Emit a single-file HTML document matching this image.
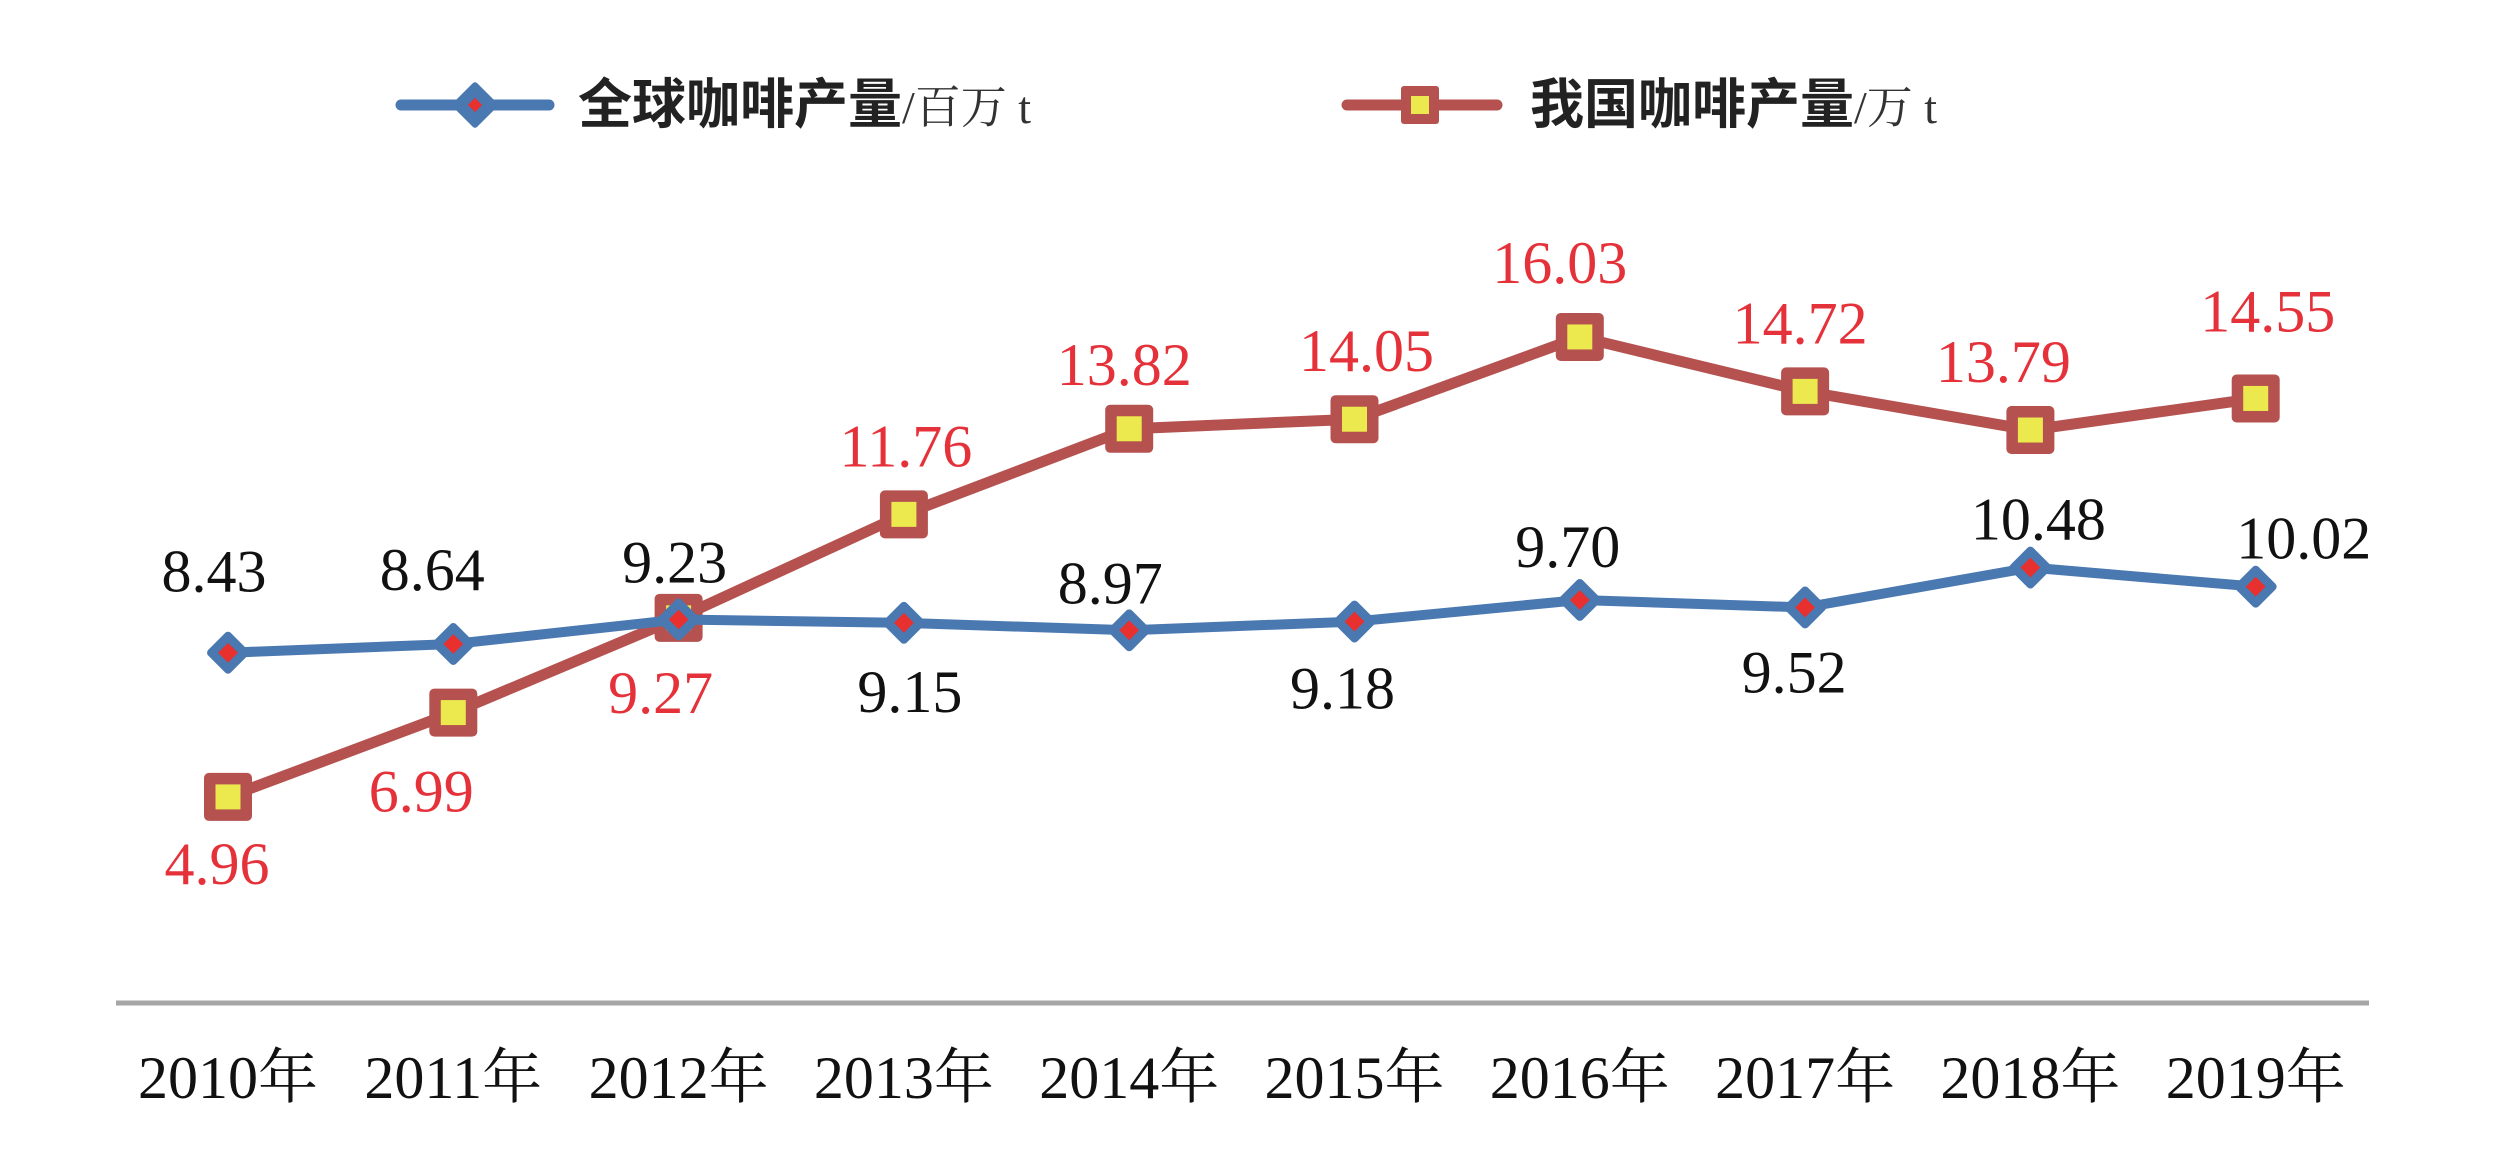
<!DOCTYPE html>
<html><head><meta charset="utf-8"><style>
html,body{margin:0;padding:0;background:#fff;}
svg{display:block;}
</style></head><body>
<svg id="chart" width="2495" height="1158" viewBox="0 0 2495 1158" xmlns="http://www.w3.org/2000/svg">
  <g>
    <g>
      <line x1="401" y1="105" x2="549" y2="105" stroke="#4a78b0" stroke-width="11" stroke-linecap="round"/>
      <rect x="458" y="88" width="34" height="34" fill="#4a78b0" rx="3" transform="rotate(45 475 105)"/>
      <rect x="470" y="100" width="10" height="10" fill="#e8302f" transform="rotate(45 475 105)"/>
      <text x="578" y="123" font-family="'Liberation Sans','Noto Sans CJK SC',sans-serif" font-size="54" font-weight="bold" fill="#222">全球咖啡产量<tspan font-weight="normal" font-size="46" fill="#333" font-family="'Liberation Serif','Noto Serif CJK SC',serif">/百万 t</tspan></text>
    </g>
    <g>
      <line x1="1347" y1="105" x2="1497" y2="105" stroke="#b5524f" stroke-width="11" stroke-linecap="round"/>
      <rect x="1401" y="86" width="38" height="38" fill="#b5524f" rx="3"/>
      <rect x="1411" y="96" width="18" height="18" fill="#ece94f"/>
      <text x="1530" y="123" font-family="'Liberation Sans','Noto Sans CJK SC',sans-serif" font-size="54" font-weight="bold" fill="#222">我国咖啡产量<tspan font-weight="normal" font-size="46" fill="#333" font-family="'Liberation Serif','Noto Serif CJK SC',serif">/万 t</tspan></text>
    </g>
  </g>
  <line x1="116" y1="1003" x2="2369" y2="1003" stroke="#a6a6a6" stroke-width="5"/>
  <g id="xticks"></g>
  <g id="redSeries"></g>
  <g id="blueSeries"></g>
  <g id="labels"></g>
</svg>
<script>
const categories = ["2010年","2011年","2012年","2013年","2014年","2015年","2016年","2017年","2018年","2019年"];
const globalValues = [8.43, 8.64, 9.23, 9.15, 8.97, 9.18, 9.70, 9.52, 10.48, 10.02];
const chinaValues = [4.96, 6.99, 9.27, 11.76, 13.82, 14.05, 16.03, 14.72, 13.79, 14.55];
const globalLabels = ["8.43","8.64","9.23","9.15","8.97","9.18","9.70","9.52","10.48","10.02"];
const chinaLabels = ["4.96","6.99","9.27","11.76","13.82","14.05","16.03","14.72","13.79","14.55"];
// label placement offsets (layout only)
const globalDx = [-14,-21,-4,6,-19,-12,-12,-11,8,48];
const globalDy = [-61,-54,-37,89,-27,87,-33,85,-28,-28];
const chinaDx = [-11,-32,-18,2,-5,12,-20,-5,-27,12];
const chinaDy = [87,99,95,-48,-44,-48,-54,-48,-48,-67];

const NS = "http://www.w3.org/2000/svg";
const x = i => 228 + i * 225.3;
const y = v => 1003 - v * 41.55;
function mk(tag, attrs, parent){
  const e = document.createElementNS(NS, tag);
  for (const k in attrs) e.setAttribute(k, attrs[k]);
  parent.appendChild(e);
  return e;
}
const serif = "'Liberation Serif','Noto Serif CJK SC',serif";
const xt = document.getElementById('xticks');
categories.forEach((c,i)=>{
  const t = mk('text',{x:x(i), y:1098, 'text-anchor':'middle','font-family':serif,'font-size':60,fill:'#111'},xt);
  
  
  t.textContent = c;
});
const rs = document.getElementById('redSeries');
const rl = mk('polyline',{points:chinaValues.map((v,i)=>x(i)+','+y(v)).join(' '),fill:'none',stroke:'#b5524f','stroke-width':11,'stroke-linejoin':'round'},rs);


chinaValues.forEach((v,i)=>{
  const g = mk('g',{},rs);
  
  
  mk('rect',{x:x(i)-24,y:y(v)-24,width:48,height:48,rx:5,fill:'#b5524f'},g);
  mk('rect',{x:x(i)-12.5,y:y(v)-12.5,width:25,height:25,fill:'#ece94f'},g);
});
const bs = document.getElementById('blueSeries');
const bl = mk('polyline',{points:globalValues.map((v,i)=>x(i)+','+y(v)).join(' '),fill:'none',stroke:'#4a78b0','stroke-width':10,'stroke-linejoin':'round'},bs);


globalValues.forEach((v,i)=>{
  const g = mk('g',{transform:'translate('+x(i)+','+y(v)+') rotate(45)'},bs);
  
  
  mk('rect',{x:-16,y:-16,width:32,height:32,rx:4,fill:'#4a78b0'},g);
  mk('rect',{x:-7,y:-7,width:14,height:14,fill:'#e8302f'},g);
});
const lb = document.getElementById('labels');
globalValues.forEach((v,i)=>{
  const t = mk('text',{x:x(i)+globalDx[i], y:y(v)+globalDy[i],'text-anchor':'middle','font-family':serif,'font-size':60,fill:'#111'},lb);
  
  
  t.textContent = globalLabels[i];
});
chinaValues.forEach((v,i)=>{
  const t = mk('text',{x:x(i)+chinaDx[i], y:y(v)+chinaDy[i],'text-anchor':'middle','font-family':serif,'font-size':60,fill:'#e5323a'},lb);
  
  
  t.textContent = chinaLabels[i];
});
</script>
</body></html>
